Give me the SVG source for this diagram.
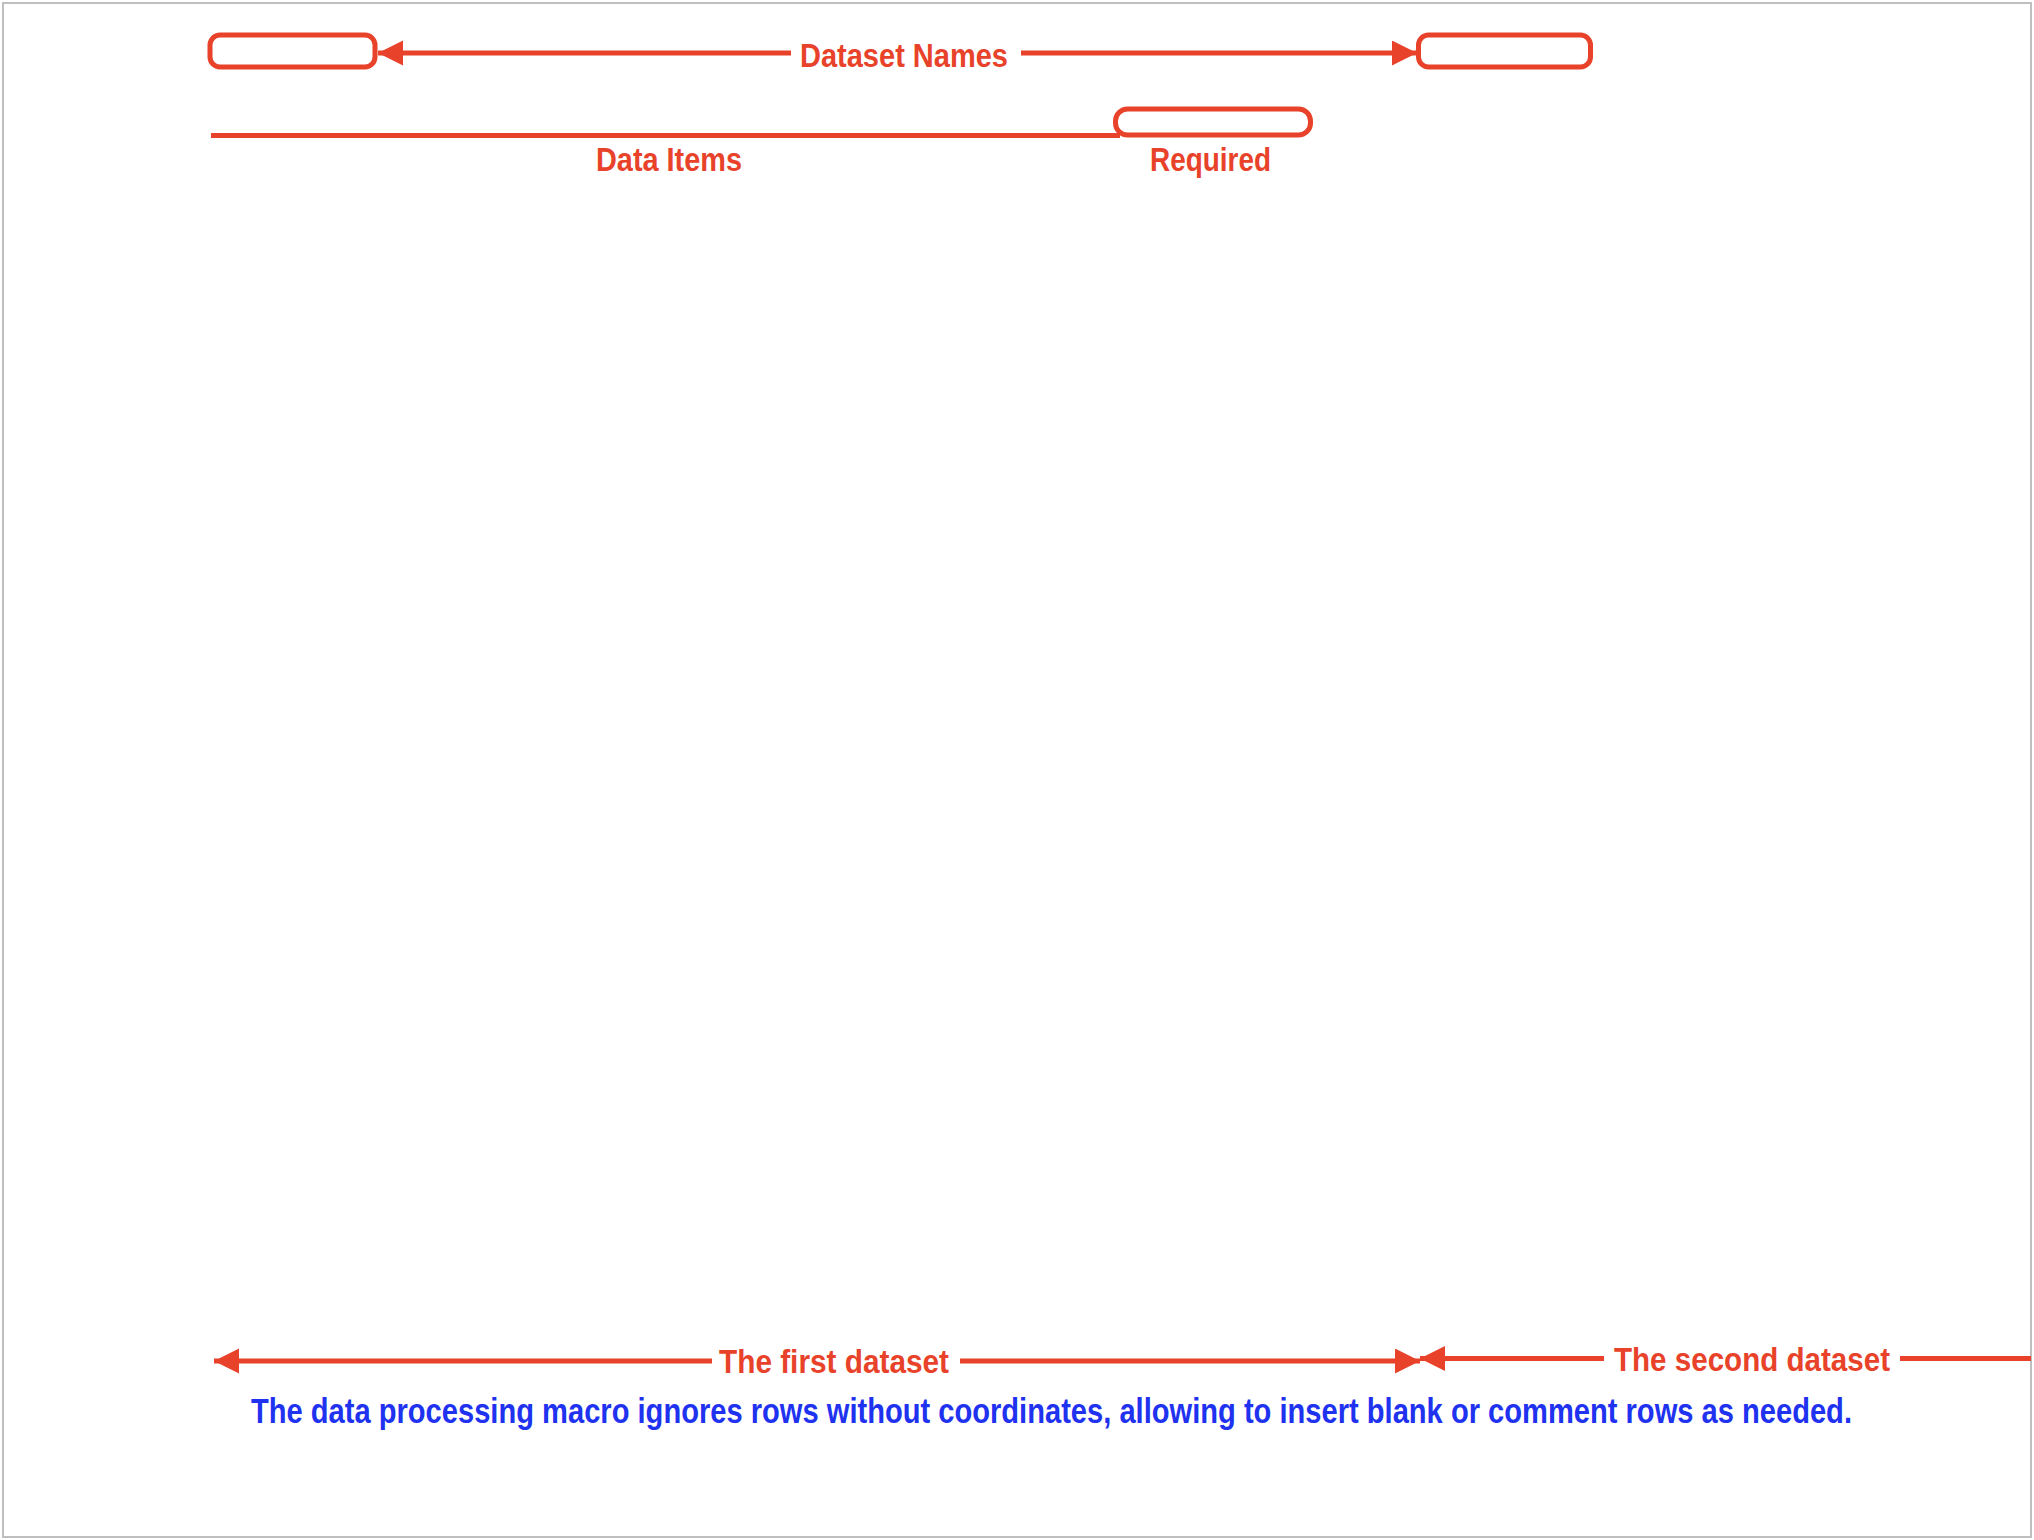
<svg xmlns="http://www.w3.org/2000/svg" width="2034" height="1540" viewBox="0 0 2034 1540">
<style>
.lbl{font-family:"Liberation Sans",Arial,sans-serif;font-weight:bold;font-size:33px;fill:#E8432A}
.note{font-family:"Liberation Sans",Arial,sans-serif;font-weight:bold;font-size:30px;fill:#1E32F0}
.box{fill:#fff;stroke:#E8432A;stroke-width:5}
.con{fill:none;stroke:#E8432A;stroke-width:5}
</style>
<defs>
<marker id="ah" markerUnits="userSpaceOnUse" markerWidth="26" markerHeight="26" refX="25" refY="12.5" orient="auto" viewBox="0 0 26 26">
<path d="M0,0 L25,12.5 L0,25 z" fill="#E8432A"/>
</marker>
</defs>
<rect x="3" y="3" width="2028" height="1534" fill="#fff" stroke="#BFBFBF" stroke-width="2"/>
<g id="connectors">
<line class="con" x1="791" y1="53" x2="378" y2="53" marker-end="url(#ah)"/>
<line class="con" x1="1021" y1="53" x2="1417" y2="53" marker-end="url(#ah)"/>
<line class="con" x1="211" y1="135.5" x2="1120" y2="135.5" stroke-width="4"/>
<line class="con" x1="712" y1="1361" x2="214" y2="1361" marker-end="url(#ah)"/>
<line class="con" x1="960" y1="1361" x2="1420" y2="1361" marker-end="url(#ah)"/>
<line class="con" x1="1604" y1="1358.5" x2="1420" y2="1358.5" marker-end="url(#ah)"/>
<line class="con" x1="1900" y1="1358.5" x2="2031" y2="1358.5"/>
</g>
<g id="name1"><rect class="box" x="210" y="35" width="165" height="32" rx="10"/></g>
<g id="name2"><rect class="box" x="1418.5" y="35" width="172" height="32" rx="10"/></g>
<g id="required"><rect class="box" x="1115.5" y="109" width="195" height="26" rx="12"/></g>
<g id="labels">
<text class="lbl" x="800" y="67" textLength="208" lengthAdjust="spacingAndGlyphs">Dataset Names</text>
<text class="lbl" x="596" y="171" textLength="146" lengthAdjust="spacingAndGlyphs">Data Items</text>
<text class="lbl" x="1150" y="171" textLength="121" lengthAdjust="spacingAndGlyphs">Required</text>
<text class="lbl" x="719" y="1373" textLength="230" lengthAdjust="spacingAndGlyphs">The first dataset</text>
<text class="lbl" x="1614" y="1371" textLength="276" lengthAdjust="spacingAndGlyphs">The second dataset</text>
<text class="note" x="251" y="1423" textLength="1601" lengthAdjust="spacingAndGlyphs" transform="translate(0 1423) scale(1 1.15) translate(0 -1423)">The data processing macro ignores rows without coordinates, allowing to insert blank or comment rows as needed.</text>
</g>
</svg>
